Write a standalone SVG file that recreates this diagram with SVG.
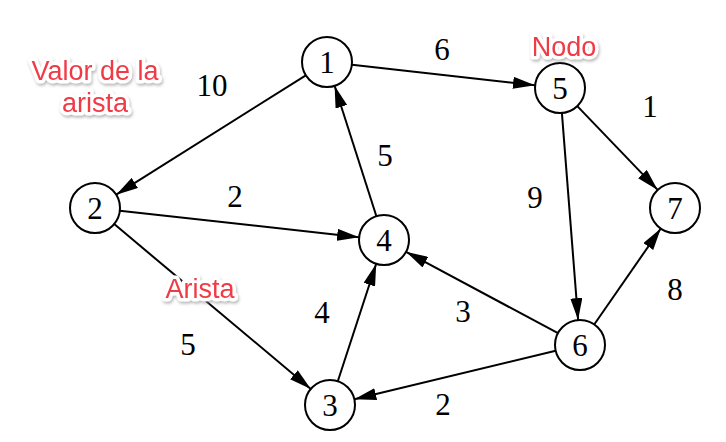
<svg xmlns="http://www.w3.org/2000/svg" width="726" height="442" viewBox="0 0 726 442">
<style>
.n circle{fill:#fff;stroke:#000;stroke-width:2}
.n text,.w{font-family:"Liberation Serif",serif;font-size:31px;fill:#000;text-anchor:middle}
.e line{stroke:#000;stroke-width:2;marker-end:url(#a)}
.w{stroke:#fff;stroke-width:6;paint-order:stroke}
.r{font-family:"Liberation Sans",Arial,sans-serif;font-size:27px;fill:#f03a45;stroke:#fff;stroke-width:7;stroke-linejoin:round;paint-order:stroke;text-anchor:middle;filter:url(#s)}
</style>
<defs>
<marker id="a" viewBox="0 0 22 12" refX="22" refY="6" markerWidth="22" markerHeight="12" markerUnits="userSpaceOnUse" orient="auto"><path d="M0,0L22,6L0,12z" fill="#000"/></marker>
<filter id="s" x="-20%" y="-20%" width="140%" height="160%"><feDropShadow dx="1" dy="2" stdDeviation="1.5" flood-color="#888" flood-opacity="0.6"/></filter>
</defs>
<rect width="726" height="442" fill="#fff"/>
<g class="e" id="edges">
<line x1="352" y1="64.8" x2="535" y2="85.2"/>
<line x1="305.8" y1="75.3" x2="116.2" y2="194.7"/>
<line x1="376.4" y1="216.2" x2="334.6" y2="85.8"/>
<line x1="119.8" y1="210.8" x2="359.1" y2="237.2"/>
<line x1="114.2" y1="224.1" x2="310.8" y2="388.9"/>
<line x1="337.8" y1="381.2" x2="376.2" y2="263.8"/>
<line x1="558" y1="333.2" x2="406" y2="251.8"/>
<line x1="555.7" y1="350.8" x2="354.3" y2="399.2"/>
<line x1="561.9" y1="112.9" x2="578.1" y2="320.1"/>
<line x1="577.3" y1="106.1" x2="657.7" y2="189.9"/>
<line x1="594.2" y1="324.5" x2="660.8" y2="228.5"/>
</g>
<g id="labels">
<text class="w" x="212" y="96">10</text>
<text class="w" x="442" y="60">6</text>
<text class="w" x="650" y="117">1</text>
<text class="w" x="385" y="166">5</text>
<text class="w" x="235" y="207">2</text>
<text class="w" x="535" y="208">9</text>
<text class="w" x="675" y="300">8</text>
<text class="w" x="322" y="323">4</text>
<text class="w" x="463" y="322">3</text>
<text class="w" x="188" y="355">5</text>
<text class="w" x="443" y="415">2</text>
</g>
<g class="n" id="n1"><circle cx="327" cy="62" r="25"/><text x="327" y="73">1</text></g>
<g class="n" id="n2"><circle cx="95" cy="208" r="25"/><text x="95" y="219">2</text></g>
<g class="n" id="n3"><circle cx="330" cy="405" r="25"/><text x="330" y="416">3</text></g>
<g class="n" id="n4"><circle cx="384" cy="240" r="25"/><text x="384" y="251">4</text></g>
<g class="n" id="n5"><circle cx="560" cy="88" r="25"/><text x="560" y="99">5</text></g>
<g class="n" id="n6"><circle cx="580" cy="345" r="25"/><text x="580" y="356">6</text></g>
<g class="n" id="n7"><circle cx="675" cy="208" r="25"/><text x="675" y="219">7</text></g>
<g id="notes">
<text class="r" x="95" y="80">Valor de la</text>
<text class="r" x="95" y="112">arista</text>
<text class="r" x="564" y="56">Nodo</text>
<text class="r" x="200" y="298">Arista</text>
</g>
</svg>
